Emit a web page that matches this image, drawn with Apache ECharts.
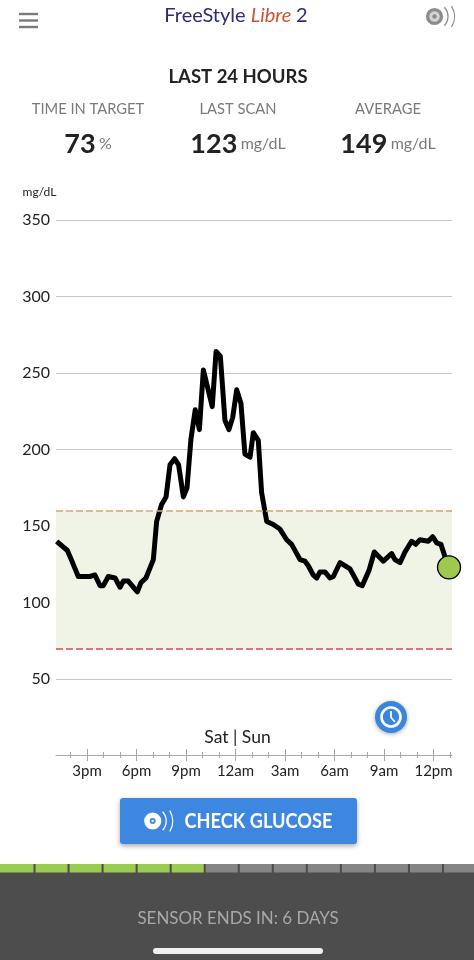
<!DOCTYPE html>
<html>
<head>
<meta charset="utf-8">
<style>
  html, body { margin: 0; padding: 0; background: #fff; }
  #main { width: 474px; height: 960px; }
</style>
<script src="https://cdn.jsdelivr.net/npm/echarts@6/dist/echarts.min.js"></script>
</head>
<body>
<div id="main"></div>
<script>
// hours counted from Saturday midnight, so 24 = 12am Sunday
var times = [13.16, 13.81, 14.01, 14.47, 15.18, 15.48, 15.79, 15.99, 16.29, 16.70, 17.00, 17.20, 17.50, 18.05, 18.27, 18.57,
  19.02, 19.22, 19.52, 19.79, 20.03, 20.31, 20.55, 20.84, 21.06, 21.30, 21.56, 21.81, 22.05, 22.59, 22.82, 23.08,
  23.36, 23.60, 23.83, 24.07, 24.33, 24.57, 24.88, 25.08, 25.38, 25.58, 25.89, 26.29, 26.69, 27.10, 27.40, 27.91,
  28.21, 28.41, 28.71, 28.92, 29.12, 29.42, 29.72, 29.93, 30.33, 30.94, 31.44, 31.68, 32.09, 32.41, 32.96, 33.46,
  33.66, 33.97, 34.27, 34.67, 34.92, 35.18, 35.68, 35.95, 36.19, 36.45, 36.69, 36.94];
var glucose = [140, 134, 129, 117, 117, 118, 111, 111, 117, 116, 110, 114, 114, 107, 113, 116,
  128, 153, 164, 169, 190, 194, 190, 169, 175, 207, 226, 213, 252, 228, 264, 261,
  219, 213, 221, 239, 230, 197, 195, 211, 206, 172, 153, 151, 148, 141, 138, 128,
  127, 124, 118, 116, 120, 120, 116, 117, 126, 122, 112, 111, 121, 133, 127, 132,
  128, 126, 133, 140, 138, 141, 140, 143, 139, 138, 130, 123];

var majorHours = [15, 18, 21, 24, 27, 30, 33, 36];
var majorLabels = ['3pm', '6pm', '9pm', '12am', '3am', '6am', '9am', '12pm'];
var minorHours = [14, 16, 17, 19, 20, 22, 23, 25, 26, 28, 29, 31, 32, 34, 35, 37];

var targetLow = 70;
var targetHigh = 160;

var stats = [
  { name: 'TIME IN TARGET', value: '73', unit: '%' },
  { name: 'LAST SCAN', value: '123', unit: 'mg/dL' },
  { name: 'AVERAGE', value: '149', unit: 'mg/dL' }
];
var sensorDays = [1, 1, 1, 1, 1, 1, 0, 0, 0, 0, 0, 0, 0, 0];

var font = 'Lato, "Noto Sans", sans-serif';
var gray = '#7a7a7a';

// scaleX narrows Lato a little, the app font is more condensed
function label(x, y, text, size, color, weight, scaleX) {
  return {
    type: 'text', x: x, y: y, scaleX: scaleX || 1, silent: true,
    style: { text: text, font: (weight || 400) + ' ' + size + 'px ' + font, fill: color, align: 'center', verticalAlign: 'middle' }
  };
}

// scan icon: disc with two arcs on its right
function scanIcon(cx, cy, color, ringColor, ringR, dotR) {
  return [
    { type: 'circle', silent: true, shape: { cx: cx, cy: cy, r: 8.6 }, style: { fill: color } },
    { type: 'circle', silent: true, shape: { cx: cx, cy: cy, r: ringR }, style: { fill: ringColor } },
    { type: 'circle', silent: true, shape: { cx: cx, cy: cy, r: dotR }, style: { fill: color } },
    { type: 'arc', silent: true, shape: { cx: cx, cy: cy, r: 13.5, startAngle: -0.75, endAngle: 0.75 }, style: { stroke: color, fill: null, lineWidth: 1.3 } },
    { type: 'arc', silent: true, shape: { cx: cx, cy: cy, r: 20, startAngle: -0.55, endAngle: 0.55 }, style: { stroke: color, fill: null, lineWidth: 1.3 } }
  ];
}

var elements = [];

// top bar
[14, 20.5, 27].forEach(function (y) {
  elements.push({ type: 'rect', silent: true, shape: { x: 19, y: y - 1.2, width: 19, height: 2.4 }, style: { fill: gray } });
});
elements.push({
  type: 'text', x: 236, y: 16, silent: true,
  style: {
    text: '{a|FreeStyle }{b|Libre }{a|2}', align: 'center', verticalAlign: 'middle',
    rich: {
      a: { fontSize: 20, fontFamily: 'Lato', fill: '#2b2d78' },
      b: { fontSize: 20, fontFamily: 'Lato', fontStyle: 'italic', fill: '#c9552f' }
    }
  }
});
elements = elements.concat(scanIcon(434.5, 16.5, '#8c8c8c', '#d4d4d4', 5.2, 2.2));

// stats
elements.push(label(238, 77, 'LAST 24 HOURS', 18.5, '#222', 700));
stats.forEach(function (s, i) {
  var cx = 88 + i * 150;
  elements.push(label(cx, 108.5, s.name, 16, gray, 400, 0.92));
  elements.push({
    type: 'text', x: cx, y: 144, silent: true,
    style: {
      text: '{v|' + s.value + '} {u|' + s.unit + '}', align: 'center', verticalAlign: 'middle',
      rich: {
        v: { fontSize: 27, fontWeight: 700, fontFamily: 'Lato', fill: '#222' },
        u: { fontSize: 16, fontFamily: 'Lato', fill: gray }
      }
    }
  });
});
elements.push(label(39.5, 192, 'mg/dL', 12, '#222'));

// clock button
elements.push({ type: 'circle', silent: true, shape: { cx: 391, cy: 717, r: 16 }, style: { fill: '#3a86dc', shadowBlur: 4, shadowColor: 'rgba(0,0,0,0.35)', shadowOffsetY: 1 } });
elements.push({ type: 'circle', silent: true, shape: { cx: 391, cy: 717, r: 9.5 }, style: { fill: null, stroke: '#fff', lineWidth: 2.6 } });
elements.push({ type: 'polyline', silent: true, shape: { points: [[391, 711], [391, 717.5], [395, 722]] }, style: { fill: null, stroke: '#fff', lineWidth: 1.8 } });

elements.push(label(237.5, 737.5, 'Sat | Sun', 17.5, '#222'));

// check glucose button
elements.push({ type: 'rect', silent: true, shape: { x: 120, y: 798, width: 237, height: 46, r: 3 }, style: { fill: '#3d87e0', shadowBlur: 5, shadowColor: 'rgba(0,0,0,0.35)', shadowOffsetY: 2 } });
elements = elements.concat(scanIcon(152.7, 821, '#fff', '#3d87e0', 3, 1.2));
elements.push(label(258.5, 821.5, 'CHECK GLUCOSE', 20, '#fff', 700, 0.91));

// sensor footer
elements.push({ type: 'rect', silent: true, shape: { x: 0, y: 864, width: 474, height: 96 }, style: { fill: '#4d4d4d' } });
sensorDays.forEach(function (on, i) {
  elements.push({
    type: 'rect', silent: true,
    shape: { x: i ? 1.5 + i * 34.04 : 0, y: 864, width: i ? 32 : 33.5, height: 8.5 },
    style: { fill: on ? '#9ccb52' : '#858585' }
  });
});
elements.push(label(238, 918, 'SENSOR ENDS IN: 6 DAYS', 18, '#a8a8a8', 400, 0.94));
elements.push({ type: 'rect', silent: true, shape: { x: 153, y: 948, width: 170, height: 6, r: 3 }, style: { fill: '#f0f0f0' } });

var points = times.map(function (t, i) { return [t, glucose[i]]; });
var last = points[points.length - 1];

var hourMin = 13.12;
var hourMax = 37.12;

var myChart = echarts.init(document.getElementById('main'));
var option = {
  animation: false,
  backgroundColor: '#fff',
  textStyle: { fontFamily: font },
  grid: { left: 56, right: 22, top: 220, bottom: 281 },
  xAxis: [
    {
      // axis line and labels, pushed down below the plot
      type: 'value', min: hourMin, max: hourMax, position: 'bottom', offset: 76,
      splitLine: { show: false },
      axisLine: { show: true, onZero: false, lineStyle: { color: '#a8a8a8', width: 1 } },
      axisTick: { show: false },
      axisLabel: {
        customValues: majorHours, margin: 8.5, fontSize: 15, color: '#222', fontFamily: font,
        formatter: function (v) { return majorLabels[majorHours.indexOf(v)]; }
      }
    },
    {
      // 3 hour ticks, crossing the line
      type: 'value', min: hourMin, max: hourMax, position: 'bottom', offset: 70,
      splitLine: { show: false }, axisLine: { show: false, onZero: false }, axisLabel: { show: false },
      axisTick: { show: true, customValues: majorHours, length: 12, lineStyle: { color: '#a8a8a8' } }
    },
    {
      // hour ticks
      type: 'value', min: hourMin, max: hourMax, position: 'bottom', offset: 73,
      splitLine: { show: false }, axisLine: { show: false, onZero: false }, axisLabel: { show: false },
      axisTick: { show: true, customValues: minorHours, length: 6, lineStyle: { color: '#a8a8a8' } }
    }
  ],
  yAxis: {
    type: 'value', min: 50, max: 350, interval: 50,
    axisLine: { show: false }, axisTick: { show: false },
    axisLabel: { fontSize: 16, color: '#222', margin: 6, fontFamily: font },
    splitLine: { show: true, lineStyle: { color: '#c6c6c6', width: 1 } }
  },
  series: [
    {
      type: 'line', data: points, showSymbol: false, symbol: 'none', z: 3,
      lineStyle: { color: '#000', width: 5, join: 'round' },
      markArea: {
        silent: true, itemStyle: { color: '#eff4e6' },
        data: [[{ yAxis: targetLow }, { yAxis: targetHigh }]]
      },
      markLine: {
        silent: true, symbol: 'none', label: { show: false },
        data: [
          { yAxis: targetHigh, lineStyle: { color: '#e2a06c', type: [7, 3], width: 1.6 } },
          { yAxis: targetLow, lineStyle: { color: '#c9504f', type: [7, 3], width: 1.6 } }
        ]
      }
    },
    {
      type: 'scatter', data: [last], symbol: 'circle', symbolSize: 23, z: 4, clip: false,
      itemStyle: { color: '#9ec94f', borderColor: '#000', borderWidth: 1.3, opacity: 1 }
    }
  ],
  graphic: { elements: elements }
};
myChart.setOption(option);
</script>
</body>
</html>
